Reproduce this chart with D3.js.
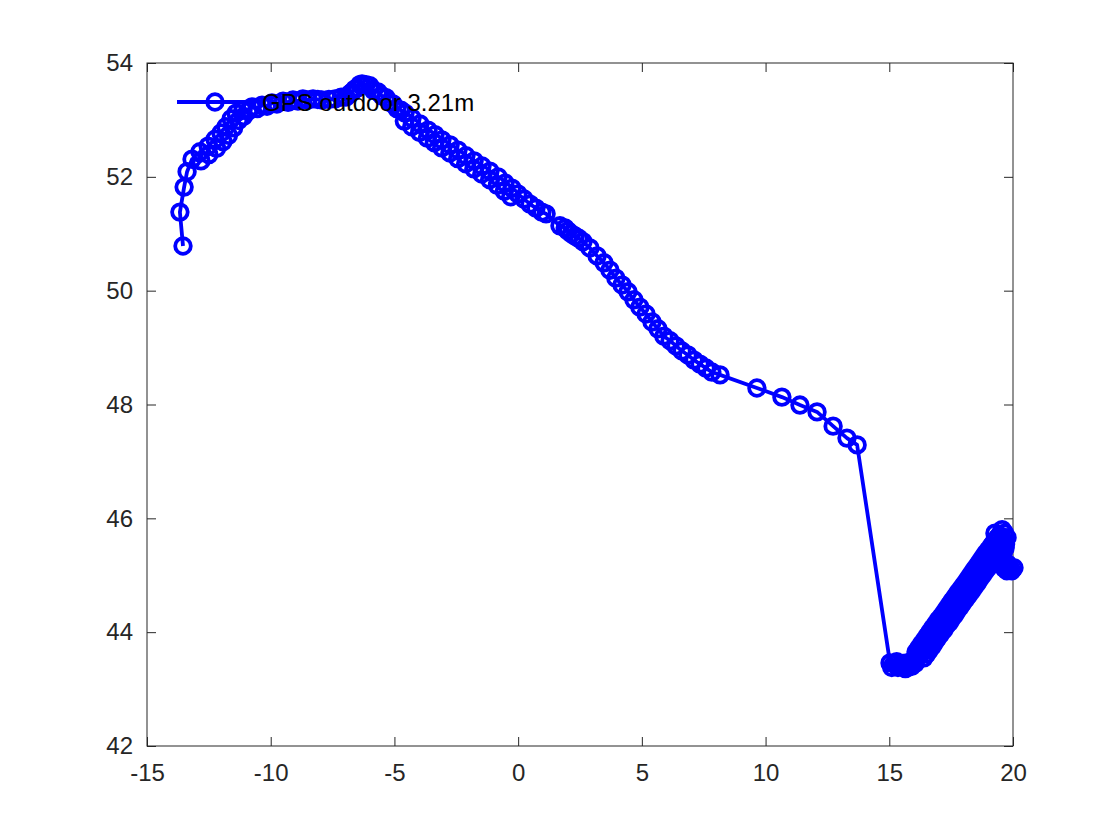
<!DOCTYPE html>
<html>
<head>
<meta charset="utf-8">
<script src="https://cdn.jsdelivr.net/npm/d3@7"></script>
<style>
  html, body { margin: 0; padding: 0; background: #fff; }
  svg { display: block; }
</style>
</head>
<body>
<svg id="chart" width="1120" height="840"></svg>
<script>
// ---- data ----
const seriesName = "GPS outdoor 3.21m";
const xTicks = [-15, -10, -5, 0, 5, 10, 15, 20];
const xTickLabels = ["-15", "-10", "-5", "0", "5", "10", "15", "20"];
const yTicks = [42, 44, 46, 48, 50, 52, 54];
const yTickLabels = ["42", "44", "46", "48", "50", "52", "54"];
const xDomain = [-15, 20];
const yDomain = [42, 54];

const trackX = [
  -13.545, -13.67, -13.50, -13.38, -13.18, -12.82, -12.86, -12.50, -12.53, -12.19,
  -12.25, -11.93, -12.01, -11.71, -11.81, -11.50, -11.60, -11.30, -11.40, -11.10,
  -11.12, -10.90, -10.76, -10.55, -10.35, -10.15, -9.95, -9.75, -9.50, -9.30,
  -9.10, -8.90, -8.70, -8.50, -8.29, -8.10, -7.93, -7.65, -7.40, -7.15,
  -6.96, -6.80, -6.71, -6.60, -6.51, -6.40, -6.31, -6.15, -5.99, -5.85,
  -5.66, -5.50, -5.34, -5.20, -5.06, -4.90, -4.73,
  -4.57, -4.60, -4.29, -4.30, -3.97, -3.98, -3.64, -3.67, -3.36, -3.39,
  -3.08, -3.09, -2.75, -2.76, -2.43, -2.44, -2.11, -2.12, -1.78, -1.79,
  -1.46, -1.47, -1.14, -1.15, -0.81, -0.84, -0.53, -0.56, -0.25, -0.30,
  -0.01, 0.24, 0.48, 0.72, 0.96, 1.13,
  1.69, 1.90, 2.01, 2.15, 2.30, 2.45, 2.62, 2.90, 3.19, 3.47,
  3.71, 3.95, 4.20, 4.44, 4.68, 4.92, 5.17, 5.41, 5.65, 5.89,
  6.14, 6.38, 6.62, 6.86, 7.11, 7.35, 7.59, 7.83, 8.16,
  9.65, 10.66, 11.39, 12.08, 12.73, 13.29, 13.70,
  // cluster near the bottom
  15.03, 15.10, 15.20, 15.30, 15.35, 15.45, 15.55, 15.65, 15.75, 15.80,
  15.70, 15.95, 16.05, 15.90, 16.10,
  // dense band rising to the right
  16.08, 16.24, 16.40, 16.52, 16.35, 16.19, 16.30, 16.47, 16.63,
  16.75, 16.58, 16.42, 16.53, 16.69, 16.85, 16.96, 16.80, 16.64,
  16.75, 16.92, 17.08, 17.20, 17.03, 16.87, 16.98, 17.14, 17.30,
  17.43, 17.25, 17.09, 17.21, 17.37, 17.53, 17.65, 17.48, 17.32,
  17.43, 17.59, 17.75, 17.87, 17.70, 17.54, 17.66, 17.82, 17.98,
  18.10, 17.93, 17.77, 17.88, 18.04, 18.20, 18.32, 18.15, 17.99,
  18.11, 18.27, 18.43, 18.55, 18.38, 18.22, 18.33, 18.49, 18.65,
  18.77, 18.60, 18.44, 18.56, 18.72, 18.88, 19.00, 18.83, 18.67,
  18.78, 18.94, 19.10, 19.22, 19.05, 18.89, 19.00, 19.17, 19.33,
  19.44, 19.28, 19.12, 19.23, 19.39, 19.55,
  // peak and hook
  19.27, 19.35, 19.45, 19.56, 19.66, 19.76, 19.70, 19.60, 19.50, 19.68,
  19.39, 19.47, 19.62, 19.55, 19.62, 19.65, 19.75, 19.78, 19.88, 19.95, 20.04
];
const trackY = [
  50.785, 51.38, 51.82, 52.09, 52.31, 52.28, 52.44, 52.39, 52.54, 52.50,
  52.66, 52.62, 52.77, 52.73, 52.88, 52.86, 53.02, 52.99, 53.12, 53.06,
  53.17, 53.16, 53.23, 53.20, 53.26, 53.24, 53.30, 53.28, 53.33, 53.31,
  53.35, 53.33, 53.37, 53.35, 53.37, 53.36, 53.35, 53.36, 53.37, 53.40,
  53.40, 53.46, 53.49, 53.54, 53.56, 53.62, 53.63, 53.62, 53.60, 53.52,
  53.49, 53.42, 53.39, 53.31, 53.28, 53.20, 53.17,
  53.12, 52.98, 53.03, 52.88, 52.93, 52.78, 52.82, 52.68, 52.74, 52.60,
  52.65, 52.51, 52.56, 52.42, 52.47, 52.32, 52.37, 52.23, 52.28, 52.14,
  52.19, 52.05, 52.10, 51.95, 52.00, 51.85, 51.89, 51.75, 51.80, 51.65,
  51.70, 51.61, 51.52, 51.45, 51.38, 51.35,
  51.14, 51.10, 51.05, 51.00, 50.96, 50.92, 50.86, 50.75, 50.61, 50.49,
  50.36, 50.22, 50.10, 49.98, 49.84, 49.71, 49.59, 49.45, 49.33, 49.20,
  49.12, 49.03, 48.94, 48.87, 48.78, 48.71, 48.64, 48.57, 48.52,
  48.29, 48.13, 47.99, 47.87, 47.62, 47.41, 47.29,
  // cluster near the bottom
  43.46, 43.38, 43.45, 43.48, 43.38, 43.42, 43.45, 43.36, 43.38, 43.42,
  43.46, 43.50, 43.45, 43.40, 43.58,
  // dense band rising to the right
  43.65, 43.60, 43.55, 43.62, 43.67, 43.72, 43.79, 43.74, 43.69,
  43.76, 43.81, 43.86, 43.93, 43.88, 43.83, 43.90, 43.95, 44.00,
  44.07, 44.02, 43.97, 44.04, 44.09, 44.14, 44.21, 44.16, 44.11,
  44.17, 44.22, 44.27, 44.34, 44.29, 44.24, 44.31, 44.36, 44.41,
  44.48, 44.43, 44.38, 44.45, 44.50, 44.55, 44.62, 44.57, 44.52,
  44.59, 44.64, 44.69, 44.75, 44.70, 44.65, 44.72, 44.77, 44.82,
  44.89, 44.84, 44.79, 44.86, 44.91, 44.96, 45.03, 44.98, 44.93,
  45.00, 45.05, 45.10, 45.17, 45.12, 45.07, 45.14, 45.19, 45.24,
  45.31, 45.26, 45.21, 45.28, 45.33, 45.38, 45.44, 45.39, 45.34,
  45.41, 45.46, 45.51, 45.58, 45.53, 45.48,
  // peak and hook
  45.74, 45.65, 45.70, 45.80, 45.74, 45.66, 45.55, 45.62, 45.58, 45.48,
  45.53, 45.36, 45.42, 45.25, 45.18, 45.12, 45.08, 45.20, 45.13, 45.08, 45.13
];

// ---- drawing ----
const svg = d3.select("#chart");
const plotLeft = 147, plotRight = 1013, plotTop = 63, plotBottom = 746;
const axisColor = "#262626";
const blue = "#0000ff";
const fontFamily = "'Liberation Sans', Arial, Helvetica, sans-serif";

const x = d3.scaleLinear().domain(xDomain).range([plotLeft, plotRight]);
const y = d3.scaleLinear().domain(yDomain).range([plotBottom, plotTop]);

const points = trackX.map((v, i) => [v, trackY[i]]);

const tickLen = 9;

svg.append("rect").attr("x", plotLeft).attr("y", plotTop)
  .attr("width", plotRight - plotLeft).attr("height", plotBottom - plotTop).attr("fill", "#fff");

const gx = svg.append("g").attr("transform", `translate(0,${plotBottom})`)
  .call(d3.axisBottom(x).tickValues(xTicks).tickFormat((d, i) => xTickLabels[i])
    .tickSizeInner(-tickLen).tickSizeOuter(0).tickPadding(18));
const gxTop = svg.append("g").attr("transform", `translate(0,${plotTop})`)
  .call(d3.axisTop(x).tickValues(xTicks).tickSizeInner(-tickLen).tickSizeOuter(0).tickFormat(""));
const gy = svg.append("g").attr("transform", `translate(${plotLeft},0)`)
  .call(d3.axisLeft(y).tickValues(yTicks).tickFormat((d, i) => yTickLabels[i])
    .tickSizeInner(-tickLen).tickSizeOuter(0).tickPadding(14));
const gyRight = svg.append("g").attr("transform", `translate(${plotRight},0)`)
  .call(d3.axisRight(y).tickValues(yTicks).tickSizeInner(-tickLen).tickSizeOuter(0).tickFormat(""));

[gx, gxTop, gy, gyRight].forEach(g => {
  g.select(".domain").remove();
  g.selectAll(".tick line").attr("stroke", axisColor).attr("stroke-width", 1);
  g.selectAll(".tick text").attr("fill", axisColor)
    .style("font-family", fontFamily).style("font-size", "24px");
});
gx.selectAll(".tick text").attr("dy", "0.71em");

svg.append("rect").attr("x", plotLeft).attr("y", plotTop)
  .attr("width", plotRight - plotLeft).attr("height", plotBottom - plotTop)
  .attr("fill", "none").attr("stroke", axisColor).attr("stroke-width", 1);

const line = d3.line().x(d => x(d[0])).y(d => y(d[1]));
svg.append("path").datum(points)
  .attr("d", line).attr("fill", "none")
  .attr("stroke", blue).attr("stroke-width", 3.8).attr("stroke-linejoin", "round");

svg.append("g").selectAll("circle").data(points).join("circle")
  .attr("cx", d => x(d[0])).attr("cy", d => y(d[1]))
  .attr("r", 7.8).attr("fill", "none")
  .attr("stroke", blue).attr("stroke-width", 3.8);

const lg = svg.append("g");
lg.append("line").attr("x1", 177).attr("x2", 253).attr("y1", 102).attr("y2", 102)
  .attr("stroke", blue).attr("stroke-width", 3.8);
lg.append("circle").attr("cx", 215).attr("cy", 102).attr("r", 7.8)
  .attr("fill", "none").attr("stroke", blue).attr("stroke-width", 3.8);
lg.append("text").attr("x", 262).attr("y", 103).attr("dy", "0.35em")
  .attr("fill", "#000").style("font-family", fontFamily).style("font-size", "24px")
  .text(seriesName);
</script>
</body>
</html>
